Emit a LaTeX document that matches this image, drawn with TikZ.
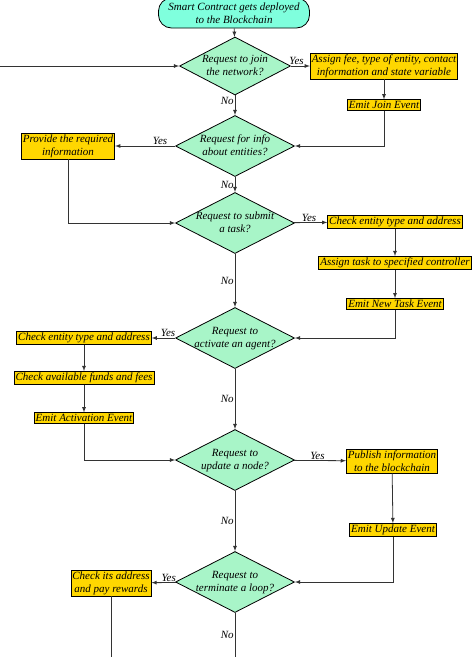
\documentclass[tikz,border=0pt]{standalone}
\usepackage{fontspec}
\setmainfont{Liberation Serif}
\usetikzlibrary{shapes.geometric}

\definecolor{termcol}{HTML}{7FFFDD}
\definecolor{askcol}{HTML}{A8F5C8}
\definecolor{boxcol}{HTML}{FFD700}
\definecolor{linecol}{HTML}{333333}

\tikzset{
  every node/.style={font=\itshape\fontsize{11}{13}\selectfont},
  term/.style={draw, line width=0.8pt, fill=termcol, rounded corners=13pt, align=center, minimum width=151pt, minimum height=30pt, inner sep=1pt},
  ask/.style={draw, line width=0.8pt, diamond, fill=askcol, minimum width=119pt, minimum height=61pt, inner sep=0pt},
  act/.style={draw, line width=0.8pt, fill=boxcol, align=center, inner sep=1.5pt},
  flow/.style={draw, color=linecol, line width=0.8pt, -latex},
  tag/.style={inner sep=1pt, text=black}
}
% two lines set inside a diamond, kept out of its size
\newcommand{\asktext}[2]{\makebox[0pt]{\begin{tabular}{@{}c@{}}#1\\#2\end{tabular}}}

\begin{document}
\begin{tikzpicture}[x=1pt, y=-1pt]
\useasboundingbox (0,0) rectangle (474,657);

\node[term] (start) at (234,13) {Smart Contract gets deployed\\to the Blockchain};

\node[ask, minimum width=111pt, minimum height=58pt] (join) at (235,66) {\asktext{Request to join}{the network?}};
\node[ask] (info) at (235,146) {\asktext{Request for info}{about entities?}};
\node[ask] (submit) at (235,223) {\asktext{Request to submit}{a task?}};
\node[ask] (activate) at (235,338) {\asktext{Request to}{activate an agent?}};
\node[ask] (update) at (235,460) {\asktext{Request to}{update a node?}};
\node[ask] (terminate) at (235,582) {\asktext{Request to}{terminate a loop?}};

\node[act] (assign) at (384,66) {Assign fee, type of entity, contact\\information and state variable};
\node[act] (emitjoin) at (384,105) {Emit Join Event};
\node[act] (provide) at (68,146) {Provide the required\\information};
\node[act] (checktask) at (395,222) {Check entity type and address};
\node[act] (assigntask) at (395,263) {Assign task to specified controller};
\node[act] (emittask) at (395,304) {Emit New Task Event};
\node[act] (checkagent) at (84,338) {Check entity type and address};
\node[act] (funds) at (84,378) {Check available funds and fees};
\node[act] (emitact) at (84,418) {Emit Activation Event};
\node[act] (publish) at (392,461) {Publish information\\to the blockchain};
\node[act] (emitupd) at (393,530) {Emit Update Event};
\node[act] (pay) at (111,583) {Check its address\\and pay rewards};

\coordinate (back) at (0,66);
\coordinate (endpay) at (111,657);
\coordinate (endloop) at (235,657);

\path[flow] (start) -- (join);
\path[flow] (back) -- (join);
\path[flow] (join) -- node[tag, above, pos=0.3] {Yes} (assign);
\path[flow] (assign) -- (emitjoin);
\path[flow] (emitjoin) |- (info);
\path[flow] (join) -- node[tag, left, pos=0.3] {No} (info);
\path[flow] (info) -- node[tag, above, pos=0.25] {Yes} (provide);
\path[flow] (provide) |- (submit);
\path[flow] (info) -- node[tag, left] {No} (submit);
\path[flow] (submit) -- node[tag, above, pos=0.45] {Yes} (checktask);
\path[flow] (checktask) -- (assigntask);
\path[flow] (assigntask) -- (emittask);
\path[flow] (emittask) |- (activate);
\path[flow] (submit) -- node[tag, left] {No} (activate);
\path[flow] (activate) -- node[tag, above, pos=0.3] {Yes} (checkagent);
\path[flow] (checkagent) -- (funds);
\path[flow] (funds) -- (emitact);
\path[flow] (emitact) |- (update);
\path[flow] (activate) -- node[tag, left] {No} (update);
\path[flow] (update) -- node[tag, above, pos=0.45] {Yes} (publish);
\path[flow] (publish) -- (emitupd);
\path[flow] (emitupd) |- (terminate);
\path[flow] (update) -- node[tag, left] {No} (terminate);
\path[flow] (terminate) -- node[tag, above, pos=0.3] {Yes} (pay);
\path[draw, color=linecol, line width=0.8pt] (pay) -- (endpay);
\path[draw, color=linecol, line width=0.8pt] (terminate) -- node[tag, left] {No} (endloop);
\end{tikzpicture}
\end{document}
